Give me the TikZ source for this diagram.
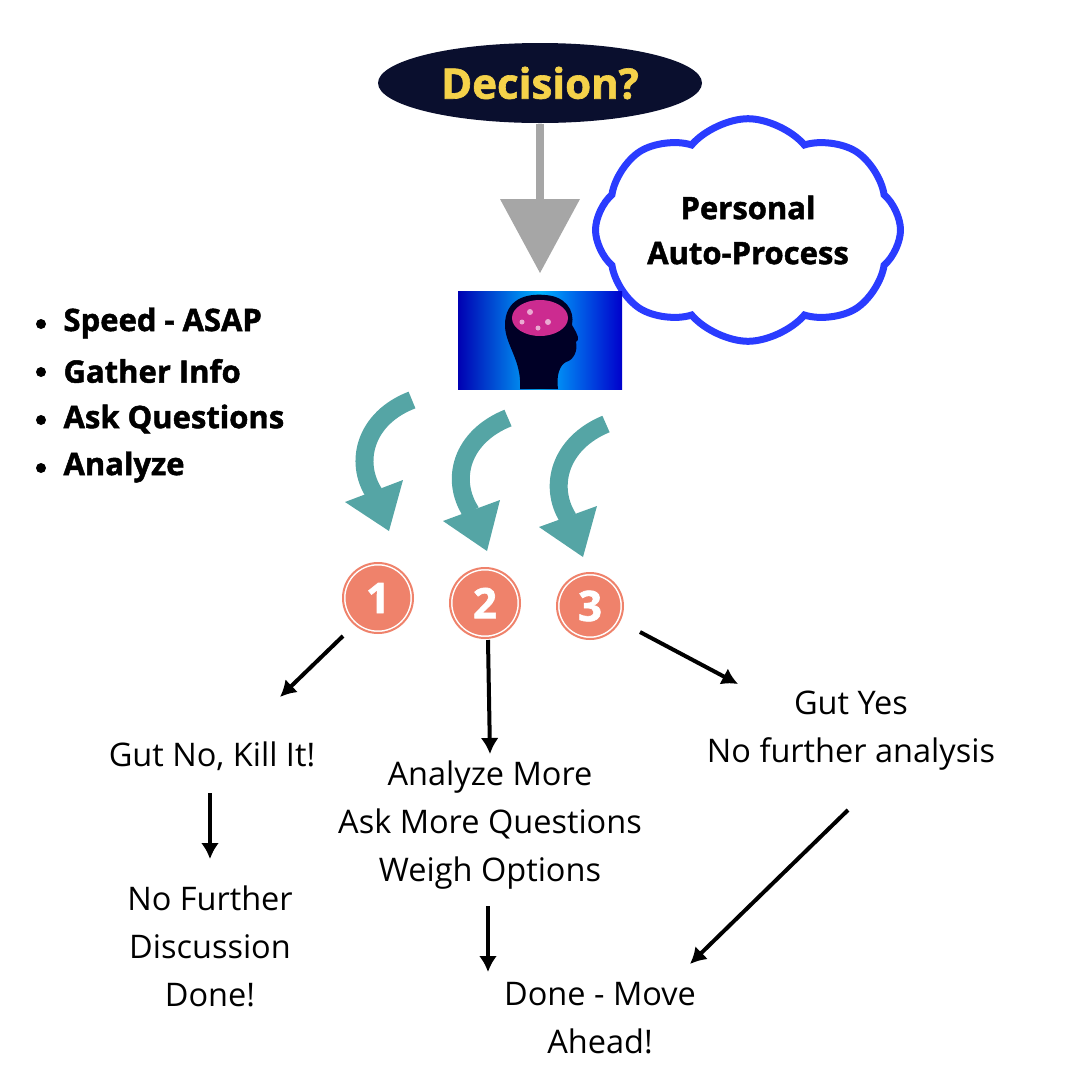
\documentclass[tikz,border=0pt]{standalone}
\usepackage{fontspec}
\setmainfont{Open Sans}
\newfontfamily\heavy[FakeBold=1.5]{Open Sans Bold}
\usetikzlibrary{shapes.geometric,shapes.symbols,arrows.meta}
\definecolor{navy}{HTML}{0A0F2E}
\definecolor{gold}{HTML}{F5D24A}
\definecolor{cloudblue}{HTML}{2A3CFF}
\definecolor{teal2}{HTML}{55A5A5}
\definecolor{salmon}{HTML}{EF826B}
\begin{document}
\begin{tikzpicture}[x=1pt,y=-1pt,
 lbl/.style={align=center,font=\fontsize{32.5}{48}\selectfont},
 bul/.style={align=left,anchor=west,font=\fontsize{31}{48}\selectfont\heavy},
 dot/.style={circle,fill=black,inner sep=0pt,minimum size=10pt},
 blk/.style={line width=4pt,-{Latex[length=16pt,width=18pt]}},
 num/.style={circle,fill=salmon,draw=white,double=salmon,double distance=2pt,line width=1.5pt,text=white,font=\fontsize{42}{42}\selectfont\heavy,inner sep=0pt},
 tealarr/.style={draw=teal2,line width=18pt}]
\useasboundingbox (0,0) rectangle (1080,1080);
% decision
\node[ellipse,fill=navy,minimum width=324pt,minimum height=80pt,text=gold,font=\fontsize{42}{42}\selectfont\heavy] (dec) at (540,83) {Decision?};
% gray arrow
\coordinate (gs) at (540,124);
\coordinate (gb) at (540,200);
\draw[line width=8pt,color=gray!70] (gs) -- (gb);
\fill[gray!70] (500,199) -- (580,199) -- (540,273) -- cycle;
% cloud
\node[cloud,cloud puffs=8,cloud puff arc=100,aspect=1.6,draw=cloudblue,line width=7pt,minimum width=305pt,minimum height=195pt,align=center,font=\fontsize{31}{48}\selectfont\heavy] (cloud) at (748,230) {Personal\\[-3pt]Auto-Process};
% brain image
\begin{scope}
\shade[left color=blue!70!black,right color=blue!80!black,middle color=cyan!70!blue] (458,291) rectangle (622,389);
\fill[black!85!blue] (520,389) .. controls (522,360) and (505,345) .. (505,325) .. controls (505,300) and (525,293) .. (545,295) .. controls (565,296) and (575,310) .. (572,325) .. controls (578,335) and (580,340) .. (576,342) .. controls (578,350) and (574,360) .. (566,362) .. controls (560,365) and (556,375) .. (558,389) -- cycle;
\fill[magenta!80!white,opacity=0.85] (540,318) ellipse (28pt and 18pt);
\fill[white,opacity=0.6] (530,312) circle (3pt) (548,322) circle (3pt) (538,328) circle (2.5pt) (522,322) circle (2.5pt);
\node[inner sep=0pt,minimum width=164pt,minimum height=98pt] (brain) at (540,340) {};
\end{scope}
% bullets
\node[dot] (d1) at (41,324) {}; \node[bul] (b1) at (60,323) {Speed - ASAP};
\node[dot] (d2) at (41,372) {}; \node[bul] (b2) at (60,371) {Gather Info};
\node[dot] (d3) at (41,420) {}; \node[bul] (b3) at (60,419) {Ask Questions};
\node[dot] (d4) at (41,468) {}; \node[bul] (b4) at (60,467) {Analyze};
% teal arrows
\draw[tealarr] (412,400) .. controls (365,418) and (354,462) .. (374,493);
\fill[teal2] (345,502) -- (403,480) -- (389,531) -- cycle;
\draw[tealarr] (508,418) .. controls (461,437) and (450,480) .. (471,512);
\fill[teal2] (443,521) -- (500,500) -- (487,551) -- cycle;
\draw[tealarr] (606,424) .. controls (560,443) and (548,486) .. (568,518);
\fill[teal2] (539,527) -- (597,506) -- (583,557) -- cycle;
% numbers
\node[num,minimum size=70pt] (n1) at (378,598) {1};
\node[num,minimum size=70pt] (n2) at (485,603) {2};
\node[num,minimum size=66pt] (n3) at (590,606) {3};
% texts
\node[lbl] (gno) at (212,756) {Gut No, Kill It!};
\node[lbl] (ana) at (490,825) {Analyze More\\Ask More Questions\\Weigh Options};
\node[lbl] (gyes) at (851,731) {Gut Yes\\No further analysis};
\node[lbl] (nof) at (210,946) {No Further\\Discussion\\Done!};
\node[lbl] (done) at (600,1018) {Done - Move\\Ahead!};
% black arrows
\coordinate (a1s) at (343,636); \coordinate (a1e) at (280,697);
\coordinate (a2s) at (488,640); \coordinate (a2e) at (490,754);
\coordinate (a3s) at (640,632); \coordinate (a3e) at (738,684);
\coordinate (a4s) at (210,793); \coordinate (a4e) at (210,859);
\coordinate (a5s) at (488,906); \coordinate (a5e) at (488,972);
\coordinate (a6s) at (848,810); \coordinate (a6e) at (690,964);
\draw[blk] (a1s) -- (a1e);
\draw[blk] (a2s) -- (a2e);
\draw[blk] (a3s) -- (a3e);
\draw[blk] (a4s) -- (a4e);
\draw[blk] (a5s) -- (a5e);
\draw[blk] (a6s) -- (a6e);
\end{tikzpicture}
\end{document}
